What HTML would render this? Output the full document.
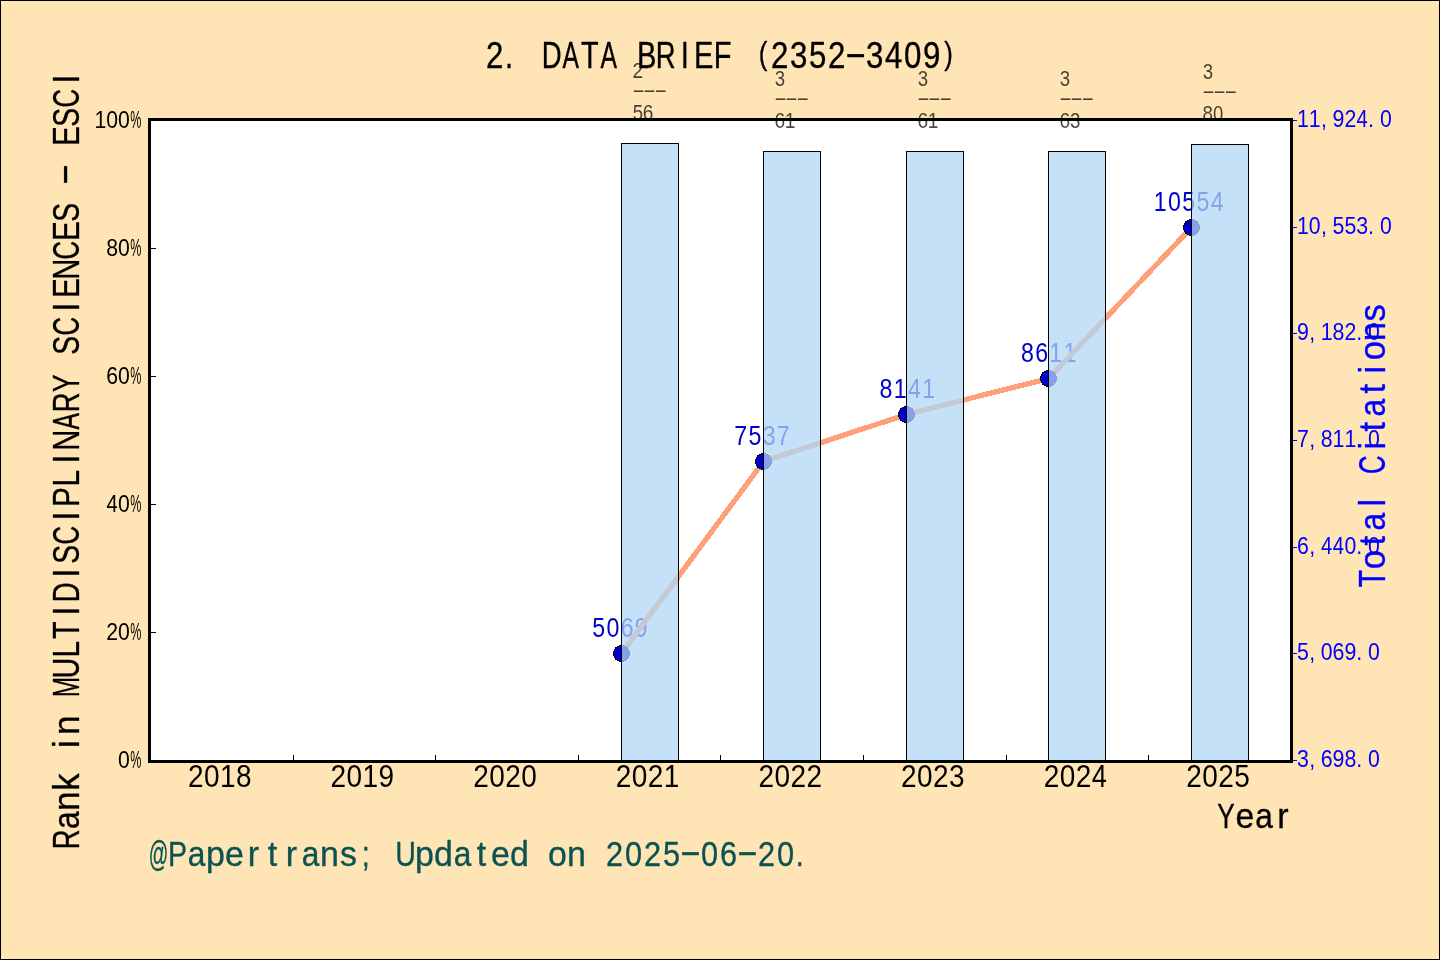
<!DOCTYPE html><html><head><meta charset="utf-8"><title>2. DATA BRIEF (2352-3409)</title><style>html,body{margin:0;padding:0;background:#FFE4B5;overflow:hidden;}svg{display:block;will-change:transform;}text{font-family:"Liberation Sans", "Noto Sans CJK SC", sans-serif;white-space:pre;}</style></head><body>
<svg width="1440" height="960" viewBox="0 0 1440 960">
<rect x="0" y="0" width="1440" height="960" fill="#FFE4B5"/>
<rect x="0.5" y="0.5" width="1439" height="959" fill="none" stroke="#000" stroke-width="1"/>
<rect x="150" y="120" width="1140" height="640" fill="#fff"/>
<text font-size="27.62" fill="#0000CD"><tspan x="592.25" y="637.40" textLength="12.90" lengthAdjust="spacingAndGlyphs">5</tspan><tspan x="606.45" y="637.40" textLength="12.90" lengthAdjust="spacingAndGlyphs">0</tspan><tspan x="620.65" y="637.40" textLength="12.90" lengthAdjust="spacingAndGlyphs">6</tspan><tspan x="634.85" y="637.40" textLength="12.90" lengthAdjust="spacingAndGlyphs">9</tspan></text>
<text font-size="27.62" fill="#0000CD"><tspan x="734.25" y="445.40" textLength="12.90" lengthAdjust="spacingAndGlyphs">7</tspan><tspan x="748.45" y="445.40" textLength="12.90" lengthAdjust="spacingAndGlyphs">5</tspan><tspan x="762.65" y="445.40" textLength="12.90" lengthAdjust="spacingAndGlyphs">3</tspan><tspan x="776.85" y="445.40" textLength="12.90" lengthAdjust="spacingAndGlyphs">7</tspan></text>
<text font-size="27.62" fill="#0000CD"><tspan x="879.55" y="398.40" textLength="12.90" lengthAdjust="spacingAndGlyphs">8</tspan><tspan x="893.75" y="398.40" textLength="12.90" lengthAdjust="spacingAndGlyphs">1</tspan><tspan x="907.95" y="398.40" textLength="12.90" lengthAdjust="spacingAndGlyphs">4</tspan><tspan x="922.15" y="398.40" textLength="12.90" lengthAdjust="spacingAndGlyphs">1</tspan></text>
<text font-size="27.62" fill="#0000CD"><tspan x="1020.95" y="362.40" textLength="12.90" lengthAdjust="spacingAndGlyphs">8</tspan><tspan x="1035.15" y="362.40" textLength="12.90" lengthAdjust="spacingAndGlyphs">6</tspan><tspan x="1049.35" y="362.40" textLength="12.90" lengthAdjust="spacingAndGlyphs">1</tspan><tspan x="1063.55" y="362.40" textLength="12.90" lengthAdjust="spacingAndGlyphs">1</tspan></text>
<text font-size="27.62" fill="#0000CD"><tspan x="1153.85" y="211.40" textLength="12.90" lengthAdjust="spacingAndGlyphs">1</tspan><tspan x="1168.05" y="211.40" textLength="12.90" lengthAdjust="spacingAndGlyphs">0</tspan><tspan x="1182.25" y="211.40" textLength="12.90" lengthAdjust="spacingAndGlyphs">5</tspan><tspan x="1196.45" y="211.40" textLength="12.90" lengthAdjust="spacingAndGlyphs">5</tspan><tspan x="1210.65" y="211.40" textLength="12.90" lengthAdjust="spacingAndGlyphs">4</tspan></text>
<polyline points="621.50,653.50 763.50,461.50 906.50,414.50 1048.50,378.50 1191.50,227.50" fill="none" stroke="#FFA07A" stroke-width="5.3" stroke-linejoin="round" shape-rendering="crispEdges"/>
<circle cx="621.50" cy="653.50" r="8" fill="#0000CD" stroke="#000" stroke-width="1" shape-rendering="crispEdges"/>
<circle cx="763.50" cy="461.50" r="8" fill="#0000CD" stroke="#000" stroke-width="1" shape-rendering="crispEdges"/>
<circle cx="906.50" cy="414.50" r="8" fill="#0000CD" stroke="#000" stroke-width="1" shape-rendering="crispEdges"/>
<circle cx="1048.50" cy="378.50" r="8" fill="#0000CD" stroke="#000" stroke-width="1" shape-rendering="crispEdges"/>
<circle cx="1191.50" cy="227.50" r="8" fill="#0000CD" stroke="#000" stroke-width="1" shape-rendering="crispEdges"/>
<rect x="621.5" y="143.5" width="57" height="617" fill="#B2D7F6" fill-opacity="0.75" stroke="#000" stroke-width="1"/>
<rect x="763.5" y="151.5" width="57" height="609" fill="#B2D7F6" fill-opacity="0.75" stroke="#000" stroke-width="1"/>
<rect x="906.5" y="151.5" width="57" height="609" fill="#B2D7F6" fill-opacity="0.75" stroke="#000" stroke-width="1"/>
<rect x="1048.5" y="151.5" width="57" height="609" fill="#B2D7F6" fill-opacity="0.75" stroke="#000" stroke-width="1"/>
<rect x="1191.5" y="144.5" width="57" height="616" fill="#B2D7F6" fill-opacity="0.75" stroke="#000" stroke-width="1"/>
<text font-size="21.22" fill="#000" opacity="0.72"><tspan x="632.54" y="78.00" textLength="10.62" lengthAdjust="spacingAndGlyphs">2</tspan></text>
<text font-size="20.64" fill="#000" opacity="0.72"><tspan x="631.99" y="96.98" textLength="13.13" lengthAdjust="spacingAndGlyphs">-</tspan><tspan x="643.09" y="96.98" textLength="13.13" lengthAdjust="spacingAndGlyphs">-</tspan><tspan x="654.19" y="96.98" textLength="13.13" lengthAdjust="spacingAndGlyphs">-</tspan></text>
<text font-size="21.22" fill="#000" opacity="0.72"><tspan x="632.66" y="120.00" textLength="10.37" lengthAdjust="spacingAndGlyphs">5</tspan><tspan x="642.84" y="120.00" textLength="10.62" lengthAdjust="spacingAndGlyphs">6</tspan></text>
<text font-size="21.22" fill="#000" opacity="0.72"><tspan x="774.66" y="86.00" textLength="10.37" lengthAdjust="spacingAndGlyphs">3</tspan></text>
<text font-size="20.64" fill="#000" opacity="0.72"><tspan x="773.99" y="104.98" textLength="13.13" lengthAdjust="spacingAndGlyphs">-</tspan><tspan x="785.09" y="104.98" textLength="13.13" lengthAdjust="spacingAndGlyphs">-</tspan><tspan x="796.19" y="104.98" textLength="13.13" lengthAdjust="spacingAndGlyphs">-</tspan></text>
<text font-size="21.22" fill="#000" opacity="0.72"><tspan x="774.54" y="128.00" textLength="10.62" lengthAdjust="spacingAndGlyphs">6</tspan><tspan x="784.84" y="128.00" textLength="10.62" lengthAdjust="spacingAndGlyphs">1</tspan></text>
<text font-size="21.22" fill="#000" opacity="0.72"><tspan x="917.66" y="86.00" textLength="10.37" lengthAdjust="spacingAndGlyphs">3</tspan></text>
<text font-size="20.64" fill="#000" opacity="0.72"><tspan x="916.99" y="104.98" textLength="13.13" lengthAdjust="spacingAndGlyphs">-</tspan><tspan x="928.09" y="104.98" textLength="13.13" lengthAdjust="spacingAndGlyphs">-</tspan><tspan x="939.19" y="104.98" textLength="13.13" lengthAdjust="spacingAndGlyphs">-</tspan></text>
<text font-size="21.22" fill="#000" opacity="0.72"><tspan x="917.54" y="128.00" textLength="10.62" lengthAdjust="spacingAndGlyphs">6</tspan><tspan x="927.84" y="128.00" textLength="10.62" lengthAdjust="spacingAndGlyphs">1</tspan></text>
<text font-size="21.22" fill="#000" opacity="0.72"><tspan x="1059.66" y="86.00" textLength="10.37" lengthAdjust="spacingAndGlyphs">3</tspan></text>
<text font-size="20.64" fill="#000" opacity="0.72"><tspan x="1058.99" y="104.98" textLength="13.13" lengthAdjust="spacingAndGlyphs">-</tspan><tspan x="1070.09" y="104.98" textLength="13.13" lengthAdjust="spacingAndGlyphs">-</tspan><tspan x="1081.19" y="104.98" textLength="13.13" lengthAdjust="spacingAndGlyphs">-</tspan></text>
<text font-size="21.22" fill="#000" opacity="0.72"><tspan x="1059.54" y="128.00" textLength="10.62" lengthAdjust="spacingAndGlyphs">6</tspan><tspan x="1069.96" y="128.00" textLength="10.37" lengthAdjust="spacingAndGlyphs">3</tspan></text>
<text font-size="21.22" fill="#000" opacity="0.72"><tspan x="1202.66" y="79.00" textLength="10.37" lengthAdjust="spacingAndGlyphs">3</tspan></text>
<text font-size="20.64" fill="#000" opacity="0.72"><tspan x="1201.99" y="97.98" textLength="13.13" lengthAdjust="spacingAndGlyphs">-</tspan><tspan x="1213.09" y="97.98" textLength="13.13" lengthAdjust="spacingAndGlyphs">-</tspan><tspan x="1224.19" y="97.98" textLength="13.13" lengthAdjust="spacingAndGlyphs">-</tspan></text>
<text font-size="21.22" fill="#000" opacity="0.72"><tspan x="1202.61" y="121.00" textLength="10.48" lengthAdjust="spacingAndGlyphs">8</tspan><tspan x="1213.01" y="121.00" textLength="10.28" lengthAdjust="spacingAndGlyphs">0</tspan></text>
<rect x="148" y="118" width="1145" height="3" fill="#000"/>
<rect x="148" y="760" width="1145" height="3" fill="#000"/>
<rect x="148" y="118" width="3" height="645" fill="#000"/>
<rect x="1290" y="118" width="3" height="645" fill="#000"/>
<text font-size="24.13" fill="#000"><tspan x="118.12" y="767.80" textLength="11.81" lengthAdjust="spacingAndGlyphs">0</tspan><tspan x="130.34" y="767.80" textLength="11.06" lengthAdjust="spacingAndGlyphs">%</tspan></text>
<line x1="151" y1="632.5" x2="156" y2="632.5" stroke="#000" stroke-width="1"/>
<text font-size="24.13" fill="#000"><tspan x="106.27" y="639.80" textLength="11.81" lengthAdjust="spacingAndGlyphs">2</tspan><tspan x="118.12" y="639.80" textLength="11.81" lengthAdjust="spacingAndGlyphs">0</tspan><tspan x="130.34" y="639.80" textLength="11.06" lengthAdjust="spacingAndGlyphs">%</tspan></text>
<line x1="151" y1="504.5" x2="156" y2="504.5" stroke="#000" stroke-width="1"/>
<text font-size="24.13" fill="#000"><tspan x="106.56" y="511.80" textLength="11.22" lengthAdjust="spacingAndGlyphs">4</tspan><tspan x="118.12" y="511.80" textLength="11.81" lengthAdjust="spacingAndGlyphs">0</tspan><tspan x="130.34" y="511.80" textLength="11.06" lengthAdjust="spacingAndGlyphs">%</tspan></text>
<line x1="151" y1="376.5" x2="156" y2="376.5" stroke="#000" stroke-width="1"/>
<text font-size="24.13" fill="#000"><tspan x="106.27" y="383.80" textLength="11.81" lengthAdjust="spacingAndGlyphs">6</tspan><tspan x="118.12" y="383.80" textLength="11.81" lengthAdjust="spacingAndGlyphs">0</tspan><tspan x="130.34" y="383.80" textLength="11.06" lengthAdjust="spacingAndGlyphs">%</tspan></text>
<line x1="151" y1="248.5" x2="156" y2="248.5" stroke="#000" stroke-width="1"/>
<text font-size="24.13" fill="#000"><tspan x="106.27" y="255.80" textLength="11.81" lengthAdjust="spacingAndGlyphs">8</tspan><tspan x="118.12" y="255.80" textLength="11.81" lengthAdjust="spacingAndGlyphs">0</tspan><tspan x="130.34" y="255.80" textLength="11.06" lengthAdjust="spacingAndGlyphs">%</tspan></text>
<text font-size="24.13" fill="#000"><tspan x="94.42" y="127.80" textLength="11.81" lengthAdjust="spacingAndGlyphs">1</tspan><tspan x="106.27" y="127.80" textLength="11.81" lengthAdjust="spacingAndGlyphs">0</tspan><tspan x="118.12" y="127.80" textLength="11.81" lengthAdjust="spacingAndGlyphs">0</tspan><tspan x="130.34" y="127.80" textLength="11.06" lengthAdjust="spacingAndGlyphs">%</tspan></text>
<line x1="293.5" y1="755" x2="293.5" y2="760" stroke="#000" stroke-width="1"/>
<line x1="435.5" y1="755" x2="435.5" y2="760" stroke="#000" stroke-width="1"/>
<line x1="578.5" y1="755" x2="578.5" y2="760" stroke="#000" stroke-width="1"/>
<line x1="720.5" y1="755" x2="720.5" y2="760" stroke="#000" stroke-width="1"/>
<line x1="863.5" y1="755" x2="863.5" y2="760" stroke="#000" stroke-width="1"/>
<line x1="1006.5" y1="755" x2="1006.5" y2="760" stroke="#000" stroke-width="1"/>
<line x1="1148.5" y1="755" x2="1148.5" y2="760" stroke="#000" stroke-width="1"/>
<text font-size="31.10" fill="#000"><tspan x="187.97" y="787.20" textLength="15.57" lengthAdjust="spacingAndGlyphs">2</tspan><tspan x="203.97" y="787.20" textLength="15.57" lengthAdjust="spacingAndGlyphs">0</tspan><tspan x="219.97" y="787.20" textLength="15.57" lengthAdjust="spacingAndGlyphs">1</tspan><tspan x="235.97" y="787.20" textLength="15.57" lengthAdjust="spacingAndGlyphs">8</tspan></text>
<text font-size="31.10" fill="#000"><tspan x="330.58" y="787.20" textLength="15.57" lengthAdjust="spacingAndGlyphs">2</tspan><tspan x="346.58" y="787.20" textLength="15.57" lengthAdjust="spacingAndGlyphs">0</tspan><tspan x="362.58" y="787.20" textLength="15.57" lengthAdjust="spacingAndGlyphs">1</tspan><tspan x="378.58" y="787.20" textLength="15.57" lengthAdjust="spacingAndGlyphs">9</tspan></text>
<text font-size="31.10" fill="#000"><tspan x="473.19" y="787.20" textLength="15.57" lengthAdjust="spacingAndGlyphs">2</tspan><tspan x="489.19" y="787.20" textLength="15.57" lengthAdjust="spacingAndGlyphs">0</tspan><tspan x="505.19" y="787.20" textLength="15.57" lengthAdjust="spacingAndGlyphs">2</tspan><tspan x="521.19" y="787.20" textLength="15.57" lengthAdjust="spacingAndGlyphs">0</tspan></text>
<text font-size="31.10" fill="#000"><tspan x="615.80" y="787.20" textLength="15.57" lengthAdjust="spacingAndGlyphs">2</tspan><tspan x="631.80" y="787.20" textLength="15.57" lengthAdjust="spacingAndGlyphs">0</tspan><tspan x="647.80" y="787.20" textLength="15.57" lengthAdjust="spacingAndGlyphs">2</tspan><tspan x="663.80" y="787.20" textLength="15.57" lengthAdjust="spacingAndGlyphs">1</tspan></text>
<text font-size="31.10" fill="#000"><tspan x="758.41" y="787.20" textLength="15.57" lengthAdjust="spacingAndGlyphs">2</tspan><tspan x="774.41" y="787.20" textLength="15.57" lengthAdjust="spacingAndGlyphs">0</tspan><tspan x="790.41" y="787.20" textLength="15.57" lengthAdjust="spacingAndGlyphs">2</tspan><tspan x="806.41" y="787.20" textLength="15.57" lengthAdjust="spacingAndGlyphs">2</tspan></text>
<text font-size="31.10" fill="#000"><tspan x="901.02" y="787.20" textLength="15.57" lengthAdjust="spacingAndGlyphs">2</tspan><tspan x="917.02" y="787.20" textLength="15.57" lengthAdjust="spacingAndGlyphs">0</tspan><tspan x="933.02" y="787.20" textLength="15.57" lengthAdjust="spacingAndGlyphs">2</tspan><tspan x="949.02" y="787.20" textLength="15.57" lengthAdjust="spacingAndGlyphs">3</tspan></text>
<text font-size="31.10" fill="#000"><tspan x="1043.63" y="787.20" textLength="15.57" lengthAdjust="spacingAndGlyphs">2</tspan><tspan x="1059.63" y="787.20" textLength="15.57" lengthAdjust="spacingAndGlyphs">0</tspan><tspan x="1075.63" y="787.20" textLength="15.57" lengthAdjust="spacingAndGlyphs">2</tspan><tspan x="1091.83" y="787.20" textLength="15.15" lengthAdjust="spacingAndGlyphs">4</tspan></text>
<text font-size="31.10" fill="#000"><tspan x="1186.24" y="787.20" textLength="15.57" lengthAdjust="spacingAndGlyphs">2</tspan><tspan x="1202.24" y="787.20" textLength="15.57" lengthAdjust="spacingAndGlyphs">0</tspan><tspan x="1218.24" y="787.20" textLength="15.57" lengthAdjust="spacingAndGlyphs">2</tspan><tspan x="1234.24" y="787.20" textLength="15.57" lengthAdjust="spacingAndGlyphs">5</tspan></text>
<line x1="1293" y1="760.50" x2="1297" y2="760.50" stroke="#0000FF" stroke-width="1"/>
<text font-size="24.27" fill="#0000FF"><tspan x="1296.99" y="766.70" textLength="11.88" lengthAdjust="spacingAndGlyphs">3</tspan><tspan x="1309.20" y="766.70" textLength="5.93" lengthAdjust="spacingAndGlyphs">,</tspan><tspan x="1320.69" y="766.70" textLength="11.88" lengthAdjust="spacingAndGlyphs">6</tspan><tspan x="1332.54" y="766.70" textLength="11.88" lengthAdjust="spacingAndGlyphs">9</tspan><tspan x="1344.39" y="766.70" textLength="11.88" lengthAdjust="spacingAndGlyphs">8</tspan><tspan x="1356.25" y="766.70" textLength="5.93" lengthAdjust="spacingAndGlyphs">.</tspan><tspan x="1368.11" y="766.70" textLength="11.83" lengthAdjust="spacingAndGlyphs">0</tspan></text>
<line x1="1293" y1="653.50" x2="1297" y2="653.50" stroke="#0000FF" stroke-width="1"/>
<text font-size="24.27" fill="#0000FF"><tspan x="1296.99" y="659.70" textLength="11.88" lengthAdjust="spacingAndGlyphs">5</tspan><tspan x="1309.20" y="659.70" textLength="5.93" lengthAdjust="spacingAndGlyphs">,</tspan><tspan x="1320.71" y="659.70" textLength="11.83" lengthAdjust="spacingAndGlyphs">0</tspan><tspan x="1332.54" y="659.70" textLength="11.88" lengthAdjust="spacingAndGlyphs">6</tspan><tspan x="1344.39" y="659.70" textLength="11.88" lengthAdjust="spacingAndGlyphs">9</tspan><tspan x="1356.25" y="659.70" textLength="5.93" lengthAdjust="spacingAndGlyphs">.</tspan><tspan x="1368.11" y="659.70" textLength="11.83" lengthAdjust="spacingAndGlyphs">0</tspan></text>
<line x1="1293" y1="547.50" x2="1297" y2="547.50" stroke="#0000FF" stroke-width="1"/>
<text font-size="24.27" fill="#0000FF"><tspan x="1296.99" y="553.70" textLength="11.88" lengthAdjust="spacingAndGlyphs">6</tspan><tspan x="1309.20" y="553.70" textLength="5.93" lengthAdjust="spacingAndGlyphs">,</tspan><tspan x="1321.01" y="553.70" textLength="11.22" lengthAdjust="spacingAndGlyphs">4</tspan><tspan x="1332.86" y="553.70" textLength="11.22" lengthAdjust="spacingAndGlyphs">4</tspan><tspan x="1344.41" y="553.70" textLength="11.83" lengthAdjust="spacingAndGlyphs">0</tspan><tspan x="1356.25" y="553.70" textLength="5.93" lengthAdjust="spacingAndGlyphs">.</tspan><tspan x="1368.11" y="553.70" textLength="11.83" lengthAdjust="spacingAndGlyphs">0</tspan></text>
<line x1="1293" y1="440.50" x2="1297" y2="440.50" stroke="#0000FF" stroke-width="1"/>
<text font-size="24.27" fill="#0000FF"><tspan x="1296.99" y="446.70" textLength="11.88" lengthAdjust="spacingAndGlyphs">7</tspan><tspan x="1309.20" y="446.70" textLength="5.93" lengthAdjust="spacingAndGlyphs">,</tspan><tspan x="1320.69" y="446.70" textLength="11.88" lengthAdjust="spacingAndGlyphs">8</tspan><tspan x="1332.54" y="446.70" textLength="11.88" lengthAdjust="spacingAndGlyphs">1</tspan><tspan x="1344.39" y="446.70" textLength="11.88" lengthAdjust="spacingAndGlyphs">1</tspan><tspan x="1356.25" y="446.70" textLength="5.93" lengthAdjust="spacingAndGlyphs">.</tspan><tspan x="1368.11" y="446.70" textLength="11.83" lengthAdjust="spacingAndGlyphs">0</tspan></text>
<line x1="1293" y1="333.50" x2="1297" y2="333.50" stroke="#0000FF" stroke-width="1"/>
<text font-size="24.27" fill="#0000FF"><tspan x="1296.99" y="339.70" textLength="11.88" lengthAdjust="spacingAndGlyphs">9</tspan><tspan x="1309.20" y="339.70" textLength="5.93" lengthAdjust="spacingAndGlyphs">,</tspan><tspan x="1320.69" y="339.70" textLength="11.88" lengthAdjust="spacingAndGlyphs">1</tspan><tspan x="1332.54" y="339.70" textLength="11.88" lengthAdjust="spacingAndGlyphs">8</tspan><tspan x="1344.39" y="339.70" textLength="11.88" lengthAdjust="spacingAndGlyphs">2</tspan><tspan x="1356.25" y="339.70" textLength="5.93" lengthAdjust="spacingAndGlyphs">.</tspan><tspan x="1368.11" y="339.70" textLength="11.83" lengthAdjust="spacingAndGlyphs">0</tspan></text>
<line x1="1293" y1="227.50" x2="1297" y2="227.50" stroke="#0000FF" stroke-width="1"/>
<text font-size="24.27" fill="#0000FF"><tspan x="1296.99" y="233.70" textLength="11.88" lengthAdjust="spacingAndGlyphs">1</tspan><tspan x="1308.86" y="233.70" textLength="11.83" lengthAdjust="spacingAndGlyphs">0</tspan><tspan x="1321.05" y="233.70" textLength="5.93" lengthAdjust="spacingAndGlyphs">,</tspan><tspan x="1332.54" y="233.70" textLength="11.88" lengthAdjust="spacingAndGlyphs">5</tspan><tspan x="1344.39" y="233.70" textLength="11.88" lengthAdjust="spacingAndGlyphs">5</tspan><tspan x="1356.24" y="233.70" textLength="11.88" lengthAdjust="spacingAndGlyphs">3</tspan><tspan x="1368.10" y="233.70" textLength="5.93" lengthAdjust="spacingAndGlyphs">.</tspan><tspan x="1379.96" y="233.70" textLength="11.83" lengthAdjust="spacingAndGlyphs">0</tspan></text>
<line x1="1293" y1="120.50" x2="1297" y2="120.50" stroke="#0000FF" stroke-width="1"/>
<text font-size="24.27" fill="#0000FF"><tspan x="1296.99" y="126.70" textLength="11.88" lengthAdjust="spacingAndGlyphs">1</tspan><tspan x="1308.84" y="126.70" textLength="11.88" lengthAdjust="spacingAndGlyphs">1</tspan><tspan x="1321.05" y="126.70" textLength="5.93" lengthAdjust="spacingAndGlyphs">,</tspan><tspan x="1332.54" y="126.70" textLength="11.88" lengthAdjust="spacingAndGlyphs">9</tspan><tspan x="1344.39" y="126.70" textLength="11.88" lengthAdjust="spacingAndGlyphs">2</tspan><tspan x="1356.56" y="126.70" textLength="11.22" lengthAdjust="spacingAndGlyphs">4</tspan><tspan x="1368.10" y="126.70" textLength="5.93" lengthAdjust="spacingAndGlyphs">.</tspan><tspan x="1379.96" y="126.70" textLength="11.83" lengthAdjust="spacingAndGlyphs">0</tspan></text>
<text font-size="36.34" fill="#000" stroke="#000" stroke-width="0.35" stroke-linejoin="round"><tspan x="486.01" y="68.30" textLength="17.38" lengthAdjust="spacingAndGlyphs">2</tspan><tspan x="504.91" y="68.30" textLength="8.08" lengthAdjust="spacingAndGlyphs">.</tspan><tspan x="527.65" y="68.30"> </tspan><tspan x="541.75" y="68.30" textLength="19.90" lengthAdjust="spacingAndGlyphs">D</tspan><tspan x="562.48" y="68.30" textLength="16.44" lengthAdjust="spacingAndGlyphs">A</tspan><tspan x="580.88" y="68.30" textLength="17.63" lengthAdjust="spacingAndGlyphs">T</tspan><tspan x="600.48" y="68.30" textLength="16.44" lengthAdjust="spacingAndGlyphs">A</tspan><tspan x="622.65" y="68.30"> </tspan><tspan x="637.01" y="68.30" textLength="19.39" lengthAdjust="spacingAndGlyphs">B</tspan><tspan x="655.77" y="68.30" textLength="19.87" lengthAdjust="spacingAndGlyphs">R</tspan><tspan x="680.66" y="68.30" textLength="8.08" lengthAdjust="spacingAndGlyphs">I</tspan><tspan x="694.01" y="68.30" textLength="19.39" lengthAdjust="spacingAndGlyphs">E</tspan><tspan x="713.82" y="68.30" textLength="17.76" lengthAdjust="spacingAndGlyphs">F</tspan><tspan x="736.65" y="68.30"> </tspan><tspan x="758.69" y="64.17" font-size="32.23" textLength="8.59" lengthAdjust="spacingAndGlyphs">(</tspan><tspan x="771.01" y="68.30" textLength="17.38" lengthAdjust="spacingAndGlyphs">2</tspan><tspan x="790.01" y="68.30" textLength="17.38" lengthAdjust="spacingAndGlyphs">3</tspan><tspan x="809.01" y="68.30" textLength="17.38" lengthAdjust="spacingAndGlyphs">5</tspan><tspan x="828.01" y="68.30" textLength="17.38" lengthAdjust="spacingAndGlyphs">2</tspan><tspan x="844.72" y="64.75" textLength="21.95" lengthAdjust="spacingAndGlyphs">-</tspan><tspan x="866.01" y="68.30" textLength="17.38" lengthAdjust="spacingAndGlyphs">3</tspan><tspan x="885.01" y="68.30" textLength="17.38" lengthAdjust="spacingAndGlyphs">4</tspan><tspan x="904.01" y="68.30" textLength="17.38" lengthAdjust="spacingAndGlyphs">0</tspan><tspan x="923.01" y="68.30" textLength="17.38" lengthAdjust="spacingAndGlyphs">9</tspan><tspan x="944.13" y="64.17" font-size="32.23" textLength="8.59" lengthAdjust="spacingAndGlyphs">)</tspan></text>
<text transform="translate(78.50,0) rotate(-90)" font-size="37.06" fill="#000" stroke="#000" stroke-width="0.35" stroke-linejoin="round"><tspan x="-849.13" y="0.00" textLength="19.87" lengthAdjust="spacingAndGlyphs">R</tspan><tspan x="-829.02" y="0.00" textLength="17.65" lengthAdjust="spacingAndGlyphs">a</tspan><tspan x="-810.99" y="0.00" textLength="19.58" lengthAdjust="spacingAndGlyphs">n</tspan><tspan x="-791.00" y="0.00" textLength="17.61" lengthAdjust="spacingAndGlyphs">k</tspan><tspan x="-768.35" y="0.00"> </tspan><tspan x="-748.11" y="0.00" textLength="7.82" lengthAdjust="spacingAndGlyphs">i</tspan><tspan x="-734.99" y="0.00" textLength="19.58" lengthAdjust="spacingAndGlyphs">n</tspan><tspan x="-711.35" y="0.00"> </tspan><tspan x="-697.37" y="0.00" textLength="20.35" lengthAdjust="spacingAndGlyphs">M</tspan><tspan x="-678.57" y="0.00" textLength="20.74" lengthAdjust="spacingAndGlyphs">U</tspan><tspan x="-657.45" y="0.00" textLength="16.49" lengthAdjust="spacingAndGlyphs">L</tspan><tspan x="-639.02" y="0.00" textLength="17.63" lengthAdjust="spacingAndGlyphs">T</tspan><tspan x="-615.32" y="0.00" textLength="8.24" lengthAdjust="spacingAndGlyphs">I</tspan><tspan x="-602.15" y="0.00" textLength="19.90" lengthAdjust="spacingAndGlyphs">D</tspan><tspan x="-577.32" y="0.00" textLength="8.24" lengthAdjust="spacingAndGlyphs">I</tspan><tspan x="-563.64" y="0.00" textLength="18.89" lengthAdjust="spacingAndGlyphs">S</tspan><tspan x="-544.49" y="0.00" textLength="18.58" lengthAdjust="spacingAndGlyphs">C</tspan><tspan x="-520.32" y="0.00" textLength="8.24" lengthAdjust="spacingAndGlyphs">I</tspan><tspan x="-507.09" y="0.00" textLength="19.78" lengthAdjust="spacingAndGlyphs">P</tspan><tspan x="-486.45" y="0.00" textLength="16.49" lengthAdjust="spacingAndGlyphs">L</tspan><tspan x="-463.32" y="0.00" textLength="8.24" lengthAdjust="spacingAndGlyphs">I</tspan><tspan x="-450.75" y="0.00" textLength="21.11" lengthAdjust="spacingAndGlyphs">N</tspan><tspan x="-429.42" y="0.00" textLength="16.44" lengthAdjust="spacingAndGlyphs">A</tspan><tspan x="-412.13" y="0.00" textLength="19.87" lengthAdjust="spacingAndGlyphs">R</tspan><tspan x="-391.95" y="0.00" textLength="17.49" lengthAdjust="spacingAndGlyphs">Y</tspan><tspan x="-369.35" y="0.00"> </tspan><tspan x="-354.64" y="0.00" textLength="18.89" lengthAdjust="spacingAndGlyphs">S</tspan><tspan x="-335.49" y="0.00" textLength="18.58" lengthAdjust="spacingAndGlyphs">C</tspan><tspan x="-311.32" y="0.00" textLength="8.24" lengthAdjust="spacingAndGlyphs">I</tspan><tspan x="-298.09" y="0.00" textLength="19.78" lengthAdjust="spacingAndGlyphs">E</tspan><tspan x="-279.75" y="0.00" textLength="21.11" lengthAdjust="spacingAndGlyphs">N</tspan><tspan x="-259.49" y="0.00" textLength="18.58" lengthAdjust="spacingAndGlyphs">C</tspan><tspan x="-241.09" y="0.00" textLength="19.78" lengthAdjust="spacingAndGlyphs">E</tspan><tspan x="-221.64" y="0.00" textLength="18.89" lengthAdjust="spacingAndGlyphs">S</tspan><tspan x="-198.35" y="0.00"> </tspan><tspan x="-185.18" y="-3.62" textLength="21.95" lengthAdjust="spacingAndGlyphs">-</tspan><tspan x="-160.35" y="0.00"> </tspan><tspan x="-146.09" y="0.00" textLength="19.78" lengthAdjust="spacingAndGlyphs">E</tspan><tspan x="-126.64" y="0.00" textLength="18.89" lengthAdjust="spacingAndGlyphs">S</tspan><tspan x="-107.49" y="0.00" textLength="18.58" lengthAdjust="spacingAndGlyphs">C</tspan><tspan x="-83.32" y="0.00" textLength="8.24" lengthAdjust="spacingAndGlyphs">I</tspan></text>
<text transform="translate(1384.60,0) rotate(-90)" font-size="36.34" fill="#0000FF" stroke="#0000FF" stroke-width="0.35" stroke-linejoin="round"><tspan x="-587.57" y="0.00" textLength="17.63" lengthAdjust="spacingAndGlyphs">T</tspan><tspan x="-569.35" y="0.00" textLength="19.20" lengthAdjust="spacingAndGlyphs">o</tspan><tspan x="-545.55" y="0.00" textLength="9.59" lengthAdjust="spacingAndGlyphs">t</tspan><tspan x="-530.57" y="0.00" textLength="17.65" lengthAdjust="spacingAndGlyphs">a</tspan><tspan x="-506.58" y="0.00" textLength="7.67" lengthAdjust="spacingAndGlyphs">l</tspan><tspan x="-488.80" y="0.00"> </tspan><tspan x="-474.04" y="0.00" textLength="18.58" lengthAdjust="spacingAndGlyphs">C</tspan><tspan x="-449.58" y="0.00" textLength="7.67" lengthAdjust="spacingAndGlyphs">i</tspan><tspan x="-431.55" y="0.00" textLength="9.59" lengthAdjust="spacingAndGlyphs">t</tspan><tspan x="-416.57" y="0.00" textLength="17.65" lengthAdjust="spacingAndGlyphs">a</tspan><tspan x="-393.55" y="0.00" textLength="9.59" lengthAdjust="spacingAndGlyphs">t</tspan><tspan x="-373.58" y="0.00" textLength="7.67" lengthAdjust="spacingAndGlyphs">i</tspan><tspan x="-360.35" y="0.00" textLength="19.20" lengthAdjust="spacingAndGlyphs">o</tspan><tspan x="-341.35" y="0.00" textLength="19.20" lengthAdjust="spacingAndGlyphs">n</tspan><tspan x="-321.38" y="0.00" textLength="17.26" lengthAdjust="spacingAndGlyphs">s</tspan></text>
<text font-size="35.61" fill="#000" stroke="#000" stroke-width="0.35" stroke-linejoin="round"><tspan x="1217.25" y="827.80" textLength="17.49" lengthAdjust="spacingAndGlyphs">Y</tspan><tspan x="1235.59" y="827.80" textLength="18.81" lengthAdjust="spacingAndGlyphs">e</tspan><tspan x="1255.18" y="827.80" textLength="17.65" lengthAdjust="spacingAndGlyphs">a</tspan><tspan x="1277.33" y="827.80" textLength="11.34" lengthAdjust="spacingAndGlyphs">r</tspan></text>
<text font-size="35.76" fill="#0A5350" stroke="#0A5350" stroke-width="0.35" stroke-linejoin="round"><tspan x="148.75" y="866.00" textLength="19.49" lengthAdjust="spacingAndGlyphs">@</tspan><tspan x="167.96" y="866.00" textLength="19.08" lengthAdjust="spacingAndGlyphs">P</tspan><tspan x="187.68" y="866.00" textLength="17.65" lengthAdjust="spacingAndGlyphs">a</tspan><tspan x="206.05" y="866.00" textLength="18.89" lengthAdjust="spacingAndGlyphs">p</tspan><tspan x="225.05" y="866.00" textLength="18.89" lengthAdjust="spacingAndGlyphs">e</tspan><tspan x="247.83" y="866.00" textLength="11.34" lengthAdjust="spacingAndGlyphs">r</tspan><tspan x="267.78" y="866.00" textLength="9.44" lengthAdjust="spacingAndGlyphs">t</tspan><tspan x="285.83" y="866.00" textLength="11.34" lengthAdjust="spacingAndGlyphs">r</tspan><tspan x="301.68" y="866.00" textLength="17.65" lengthAdjust="spacingAndGlyphs">a</tspan><tspan x="320.05" y="866.00" textLength="18.89" lengthAdjust="spacingAndGlyphs">n</tspan><tspan x="340.01" y="866.00" textLength="16.98" lengthAdjust="spacingAndGlyphs">s</tspan><tspan x="361.63" y="866.00" textLength="7.95" lengthAdjust="spacingAndGlyphs">;</tspan><tspan x="381.53" y="866.00"> </tspan><tspan x="395.17" y="866.00" textLength="20.66" lengthAdjust="spacingAndGlyphs">U</tspan><tspan x="415.05" y="866.00" textLength="18.89" lengthAdjust="spacingAndGlyphs">p</tspan><tspan x="434.05" y="866.00" textLength="18.89" lengthAdjust="spacingAndGlyphs">d</tspan><tspan x="453.68" y="866.00" textLength="17.65" lengthAdjust="spacingAndGlyphs">a</tspan><tspan x="476.78" y="866.00" textLength="9.44" lengthAdjust="spacingAndGlyphs">t</tspan><tspan x="491.05" y="866.00" textLength="18.89" lengthAdjust="spacingAndGlyphs">e</tspan><tspan x="510.05" y="866.00" textLength="18.89" lengthAdjust="spacingAndGlyphs">d</tspan><tspan x="533.53" y="866.00"> </tspan><tspan x="548.05" y="866.00" textLength="18.89" lengthAdjust="spacingAndGlyphs">o</tspan><tspan x="567.05" y="866.00" textLength="18.89" lengthAdjust="spacingAndGlyphs">n</tspan><tspan x="590.53" y="866.00"> </tspan><tspan x="605.95" y="866.00" textLength="17.10" lengthAdjust="spacingAndGlyphs">2</tspan><tspan x="624.95" y="866.00" textLength="17.10" lengthAdjust="spacingAndGlyphs">0</tspan><tspan x="643.95" y="866.00" textLength="17.10" lengthAdjust="spacingAndGlyphs">2</tspan><tspan x="662.95" y="866.00" textLength="17.10" lengthAdjust="spacingAndGlyphs">5</tspan><tspan x="679.52" y="862.51" textLength="21.95" lengthAdjust="spacingAndGlyphs">-</tspan><tspan x="700.95" y="866.00" textLength="17.10" lengthAdjust="spacingAndGlyphs">0</tspan><tspan x="719.95" y="866.00" textLength="17.10" lengthAdjust="spacingAndGlyphs">6</tspan><tspan x="736.52" y="862.51" textLength="21.95" lengthAdjust="spacingAndGlyphs">-</tspan><tspan x="757.95" y="866.00" textLength="17.10" lengthAdjust="spacingAndGlyphs">2</tspan><tspan x="776.95" y="866.00" textLength="17.10" lengthAdjust="spacingAndGlyphs">0</tspan><tspan x="795.78" y="866.00" textLength="7.95" lengthAdjust="spacingAndGlyphs">.</tspan></text>
</svg></body></html>
